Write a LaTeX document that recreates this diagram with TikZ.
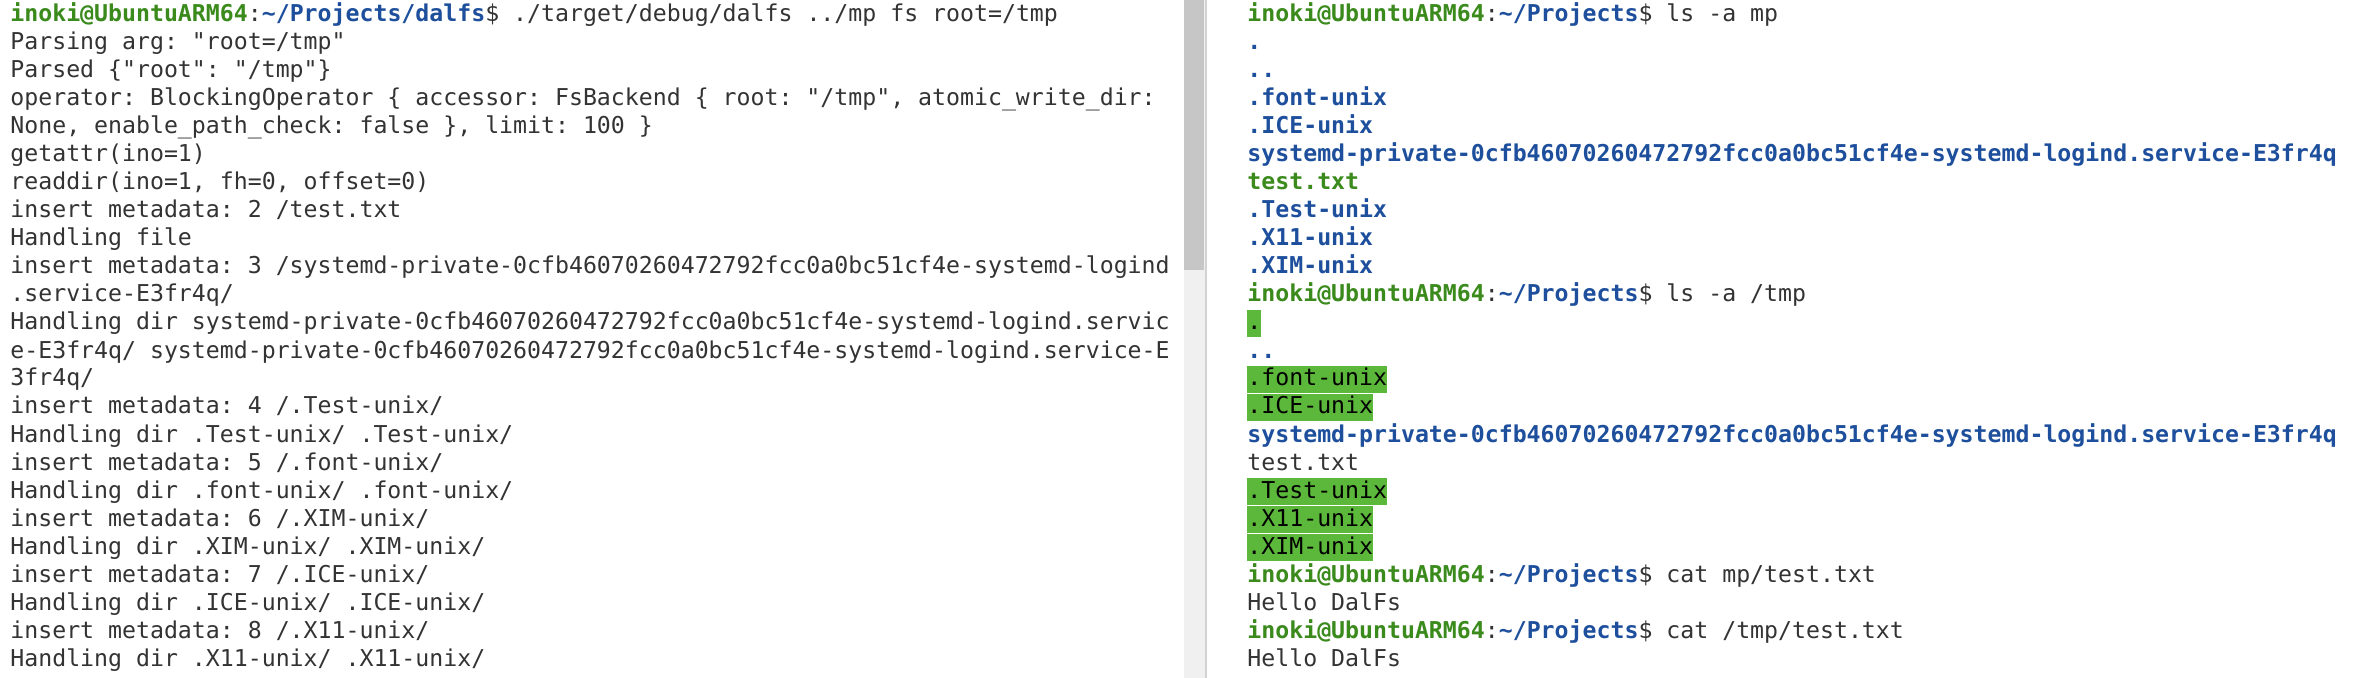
\documentclass[tikz,border=0pt]{standalone}
\usepackage{fontspec}
\setmonofont{DejaVu Sans Mono}
\definecolor{tg}{HTML}{3A8A1C}
\definecolor{tb}{HTML}{1D4F9C}
\definecolor{tx}{HTML}{333333}
\definecolor{hl}{HTML}{5CB83A}
\newcommand{\GG}[1]{\textcolor{tg}{\bfseries #1}}
\newcommand{\BB}[1]{\textcolor{tb}{\bfseries #1}}
\newcommand{\prm}[1]{\GG{inoki@UbuntuARM64}:\BB{\textasciitilde/#1}\$ }
\begin{document}
\begin{tikzpicture}[x=0.5pt,y=-0.5pt,
  ln/.style={anchor=base west,inner sep=0pt,font=\ttfamily\fontsize{11.6}{14}\selectfont,text=tx},
  hlb/.style={ln,fill=hl,text=black,text height=10pt,text depth=3.6pt}]
\useasboundingbox (0,0) rectangle (2370,678);
\fill[white] (0,0) rectangle (2370,678);
\fill[gray!12] (1184,0) rectangle (1206,678);
\fill[gray!45] (1184,0) rectangle (1204,270);
\draw[gray!35,line width=1pt] (1206,0) -- (1206,678);
% left pane
\foreach \i/\t in {
 0/{\prm{Projects/dalfs}./target/debug/dalfs ../mp fs root=/tmp},
 1/{Parsing arg: "root=/tmp"},
 2/{Parsed \{"root": "/tmp"\}},
 3/{operator: BlockingOperator \{ accessor: FsBackend \{ root: "/tmp", atomic\_write\_dir:},
 4/{None, enable\_path\_check: false \}, limit: 100 \}},
 5/{getattr(ino=1)},
 6/{readdir(ino=1, fh=0, offset=0)},
 7/{insert metadata: 2 /test.txt},
 8/{Handling file},
 9/{insert metadata: 3 /systemd-private-0cfb46070260472792fcc0a0bc51cf4e-systemd-logind},
 10/{.service-E3fr4q/},
 11/{Handling dir systemd-private-0cfb46070260472792fcc0a0bc51cf4e-systemd-logind.servic},
 12/{e-E3fr4q/ systemd-private-0cfb46070260472792fcc0a0bc51cf4e-systemd-logind.service-E},
 13/{3fr4q/},
 14/{insert metadata: 4 /.Test-unix/},
 15/{Handling dir .Test-unix/ .Test-unix/},
 16/{insert metadata: 5 /.font-unix/},
 17/{Handling dir .font-unix/ .font-unix/},
 18/{insert metadata: 6 /.XIM-unix/},
 19/{Handling dir .XIM-unix/ .XIM-unix/},
 20/{insert metadata: 7 /.ICE-unix/},
 21/{Handling dir .ICE-unix/ .ICE-unix/},
 22/{insert metadata: 8 /.X11-unix/},
 23/{Handling dir .X11-unix/ .X11-unix/}}
 \node[ln] (l\i) at (10,22+28*\i) {\t};
% right pane
\foreach \i/\t in {
 0/{\prm{Projects}ls -a mp},
 1/{\BB{.}}, 2/{\BB{..}}, 3/{\BB{.font-unix}}, 4/{\BB{.ICE-unix}},
 5/{\BB{systemd-private-0cfb46070260472792fcc0a0bc51cf4e-systemd-logind.service-E3fr4q}},
 6/{\GG{test.txt}}, 7/{\BB{.Test-unix}}, 8/{\BB{.X11-unix}}, 9/{\BB{.XIM-unix}},
 10/{\prm{Projects}ls -a /tmp},
 12/{\BB{..}},
 15/{\BB{systemd-private-0cfb46070260472792fcc0a0bc51cf4e-systemd-logind.service-E3fr4q}},
 16/{test.txt},
 20/{\prm{Projects}cat mp/test.txt},
 21/{Hello DalFs},
 22/{\prm{Projects}cat /tmp/test.txt},
 23/{Hello DalFs}}
 \node[ln] (r\i) at (1247,22+28*\i) {\t};
\foreach \i/\t in {11/{.},13/{.font-unix},14/{.ICE-unix},17/{.Test-unix},18/{.X11-unix},19/{.XIM-unix}}
 \node[hlb] (r\i) at (1247,22+28*\i) {\t};
\end{tikzpicture}
\end{document}
